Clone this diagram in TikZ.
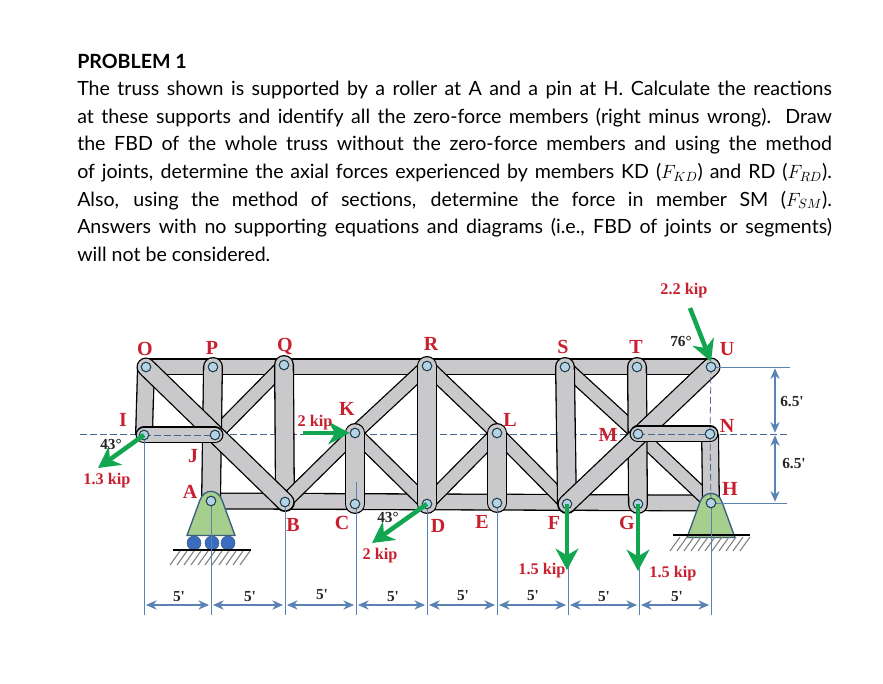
\documentclass[tikz,border=0pt]{standalone}
\usepackage{fontspec}
\setmainfont{Lato}
\newfontfamily\lblfont{Liberation Serif}
\usetikzlibrary{arrows.meta}
\definecolor{membergray}{HTML}{C9C9CB}
\definecolor{pinblue}{HTML}{B5D3E6}
\definecolor{pinedge}{HTML}{24414F}
\definecolor{dimblue}{HTML}{5B82B4}
\definecolor{forcegreen}{HTML}{12A650}
\definecolor{lblred}{HTML}{C8202F}
\definecolor{supgreen}{HTML}{A6CE8C}
\definecolor{supedge}{HTML}{3A5F7D}
\definecolor{rollblue}{HTML}{3A6DBF}
\tikzset{
  pin/.style={circle,draw=pinedge,fill=pinblue,line width=0.8pt,minimum size=7.2pt,inner sep=0pt},
  jointlbl/.style={text=lblred,font=\lblfont\bfseries\fontsize{15}{15}\selectfont,inner sep=0pt},
  loadlbl/.style={text=lblred,font=\lblfont\bfseries\fontsize{12.2}{12}\selectfont,inner sep=0pt},
  blacklbl/.style={text=black!85,font=\lblfont\bfseries\fontsize{11.5}{12}\selectfont,inner sep=0pt},
  force/.style={draw=forcegreen,line width=3.4pt,-{Stealth[length=16pt,width=17pt,inset=5pt]}},
  dimline/.style={draw=dimblue,line width=0.8pt,{Stealth[length=8pt,width=7pt]}-{Stealth[length=8pt,width=7pt]}},
  extline/.style={draw=dimblue,line width=0.6pt},
  centerline/.style={draw=dimblue!80!black,line width=0.6pt,dash pattern=on 5pt off 2.5pt},
  hatchline/.style={draw=black!50,line width=0.8pt},
}
\newcommand{\mem}[4][round]{%
  \draw[line cap=#1,line width={(#4)*0.75pt},black] (#2)--(#3);
  \draw[line cap=#1,line width={((#4)-2.6)*0.75pt},membergray] (#2)--(#3);}
\begin{document}
\begin{tikzpicture}[x=0.75pt,y=-0.75pt]
\useasboundingbox (0,0) rectangle (883,684);
\fill[white] (0,0) rectangle (883,684);
% text
\node[anchor=base west,inner sep=0pt,font=\fontsize{14.7}{20.6}\selectfont] (title) at (77,69) {\textbf{PROBLEM 1}};
\node[anchor=north west,inner sep=0pt,text width=566pt,align=justify,font=\fontsize{14.7}{20.7}\selectfont] (body) at (77,81) {%
The truss shown is supported by a roller at A and a pin at H. Calculate the reactions\linebreak
at these supports and identify all the zero-force members (right minus wrong). Draw\linebreak
the FBD of the whole truss without the zero-force members and using the method\linebreak
of joints, determine the axial forces experienced by members KD ($F_{KD}$) and RD ($F_{RD}$).\linebreak
Also, using the method of sections, determine the force in member SM ($F_{SM}$).\linebreak
Answers with no supporting equations and diagrams (i.e., FBD of joints or segments)\linebreak
will not be considered.\par};
% joints
\foreach \n/\x/\y in {O/146/367,P/213/367,Q/284/365,R/427/366,S/565/367,T/637/367,U/711/367,
  I/144/435,J/215/435,K/355/433,L/497/433,M/638/434,N/710/434,
  A/211/501,B/285/502,C/355/504,D/427/504,E/497/503,F/567/504,G/638/504,H/711/503}
  {\coordinate (c\n) at (\x,\y);}
% centre line
\coordinate (clL) at (80,434); \coordinate (clR) at (790,434);
\draw[centerline] (clL)--(clR);
% chords
\mem{cO}{cU}{17}
\mem[butt]{cA}{cH}{17}
% members, lowest first
\mem[butt]{cO}{cI}{18}
\mem[butt]{cQ}{cJ}{15}
\mem{cP}{cA}{20}
\mem{cQ}{cB}{20}
\mem[butt]{cB}{cK}{15}
\mem{cO}{cB}{19}
\mem{cI}{cJ}{17}
\mem[butt]{cK}{cR}{15}
\mem[butt]{cK}{cD}{15}
\mem{cK}{cC}{20}
\mem[butt]{cR}{cL}{15}
\mem[butt]{cD}{cL}{15}
\mem{cR}{cD}{20}
\mem[butt]{cL}{cF}{15}
\mem{cL}{cE}{20}
\mem[butt]{cS}{cM}{15}
\mem{cS}{cF}{20}
\mem[butt]{cM}{cH}{15}
\mem{cT}{cG}{20}
\mem{cU}{cF}{19}
\mem[butt]{cN}{cH}{18}
\mem{cM}{cN}{17}
% centre line over the two horizontal links
\draw[centerline] (cI)--(cJ);
\draw[centerline] (cM)--(cN);
% supports
\coordinate (supA) at (211,501);
\coordinate (supH) at (711,503);
\foreach \s in {supA,supH}{
  \draw[fill=supgreen,draw=supedge,line width=1pt] ([shift={(-24,34.5)}]\s) -- ([shift={(-11,-1)}]\s)
    .. controls ([shift={(-7,-12.5)}]\s) and ([shift={(7,-12.5)}]\s) .. ([shift={(11,-1)}]\s)
    -- ([shift={(24,34.5)}]\s) -- cycle;}
\foreach \n/\x in {r1/194,r2/212,r3/228}{
  \node[circle,fill=rollblue,draw=supedge,line width=0.4pt,minimum size=10.5pt,inner sep=0pt] (\n) at (\x,543) {};}
\coordinate (gAl) at (173,550); \coordinate (gAr) at (251,550);
\coordinate (gHl) at (673,535); \coordinate (gHr) at (750,535);
\draw[line width=1pt] (gAl)--(gAr);
\draw[line width=1pt] (gHl)--(gHr);
\foreach \hx in {177,184,...,249}{\draw[hatchline] (\hx+3,551)--(\hx-7,565);}
\foreach \hx in {677,684,...,748}{\draw[hatchline] (\hx+3,537)--(\hx-7,551);}
% dimension extension lines
\foreach \n/\x/\ystart in {e0/144/435,e1/211/501,e2/285/504,e3/356/482,e4/427/504,e5/497/503,e6/568/504,e7/639/504,e8/711/503}{
  \coordinate (\n a) at (\x,\ystart);
  \coordinate (\n b) at (\x,615);
  \coordinate (\n d) at (\x,605);
  \draw[extline] (\n a)--(\n b);}
\coordinate (uTick) at (790,367); \coordinate (hTick) at (787,503);
\draw[extline] (cU)--(uTick);
\draw[extline] (cH)--(hTick);
\draw[centerline] (cU)--(cN);
\draw[centerline] (cN)--(cH);
\foreach \a/\b in {e0/e1,e1/e2,e2/e3,e3/e4,e4/e5,e5/e6,e6/e7,e7/e8}{
  \draw[dimline] ([xshift=1.5]\a d)--([xshift=-1.5]\b d);}
\coordinate (vU) at (775,367); \coordinate (vM) at (775,434); \coordinate (vH) at (775,503);
\draw[dimline] ([yshift=-1]vU)--([yshift=1]vM);
\draw[dimline] ([yshift=-1]vM)--([yshift=1]vH);
% pins
\foreach \n in {O,P,Q,R,S,T,U,I,J,K,L,M,N,A,B,C,D,E,F,G,H}{
  \node[pin] (\n) at (c\n) {};}
% forces
\coordinate (fI) at (98,468); \coordinate (fK) at (303,433); \coordinate (fD) at (372,543);
\coordinate (fF) at (567,570); \coordinate (fG) at (638,571); \coordinate (fU) at (690,308);
\draw[force] (I.center)--(fI);
\draw[force] (fK)--(K.west);
\draw[force] (D.center)--(fD);
\draw[force] (F.center)--(fF);
\draw[force] (G.center)--(fG);
\draw[force] (fU)--(U.north);
% joint labels
\foreach \n/\x/\y in {O/145/349,P/212/348,Q/285/347,R/431/344,S/563/347,T/636/347,U/727/349,I/123/420,K/347/409,L/510/420,M/608/435,N/727/426,J/193/456,A/190/492,H/730/489,B/293/525,C/342/523,D/438/526,E/482/522,F/554/523,G/627/523}{
  \node[jointlbl] (lbl\n) at (\x,\y) {\n};}
% load labels
\node[loadlbl] (l1) at (107,481) {1.3 kip};
\node[loadlbl] (l2) at (315,423) {2 kip};
\node[loadlbl] (l3) at (380,556) {2 kip};
\node[loadlbl] (l4) at (542,571) {1.5 kip};
\node[loadlbl] (l5) at (673,574) {1.5 kip};
\node[loadlbl] (l6) at (684,291) {2.2 kip};
\node[blacklbl] (a1) at (111,444) {43°};
\node[blacklbl] (a2) at (388,517) {43°};
\node[blacklbl] (a3) at (681,341) {76°};
\foreach \n/\x/\y in {d1/179/597,d2/250/597,d3/322/595,d4/393/597,d5/463/596,d6/533/596,d7/604/597,d8/677/597}{
  \node[blacklbl] (\n) at (\x,\y) {5'};}
\node[blacklbl] (h1) at (792,402) {6.5'};
\node[blacklbl] (h2) at (794,464) {6.5'};
\end{tikzpicture}
\end{document}
